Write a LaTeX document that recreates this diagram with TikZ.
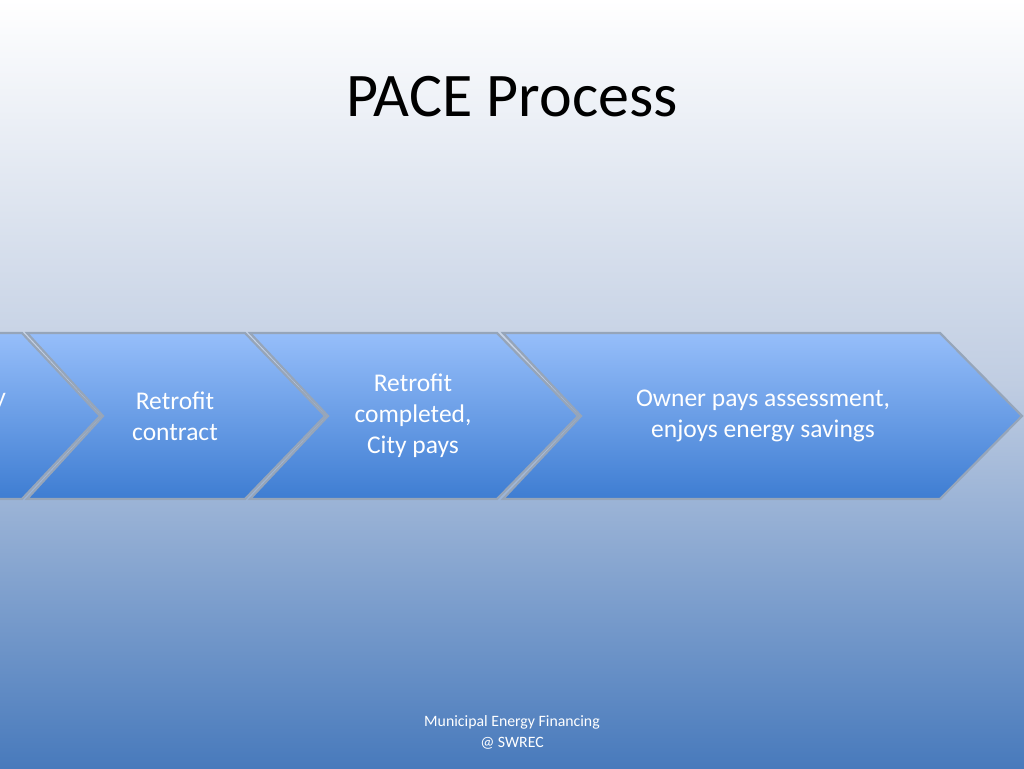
\documentclass[tikz,border=0pt]{standalone}
\usepackage{fontspec}
\setmainfont{Carlito}
\definecolor{bgtop}{RGB}{255,255,255}
\definecolor{bgmid}{RGB}{192,205,226}
\definecolor{bgbot}{RGB}{72,122,188}
\definecolor{chtop}{RGB}{150,190,250}
\definecolor{chbot}{RGB}{62,125,210}
\definecolor{chline}{RGB}{150,165,185}
\tikzset{
 chev/.style={top color=chtop,bottom color=chbot,draw=chline,line width=2.2pt,line join=miter},
 lbl/.style={text=white,font=\fontsize{25.5}{31}\selectfont,align=center},
}
\begin{document}
\begin{tikzpicture}[x=1pt,y=-1pt]
\useasboundingbox (0,0) rectangle (1024,768);
\shade[top color=bgtop,bottom color=bgbot,middle color=bgmid] (0,0) rectangle (1024,768);
\begin{scope}
\clip (0,0) rectangle (1024,768);
\filldraw[chev] (-200,333) -- (22,333) -- (100,416) -- (22,499) -- (-200,499) -- cycle;
\filldraw[chev] (27,333) -- (245,333) -- (325,416) -- (245,499) -- (27,499) -- (103,416) -- cycle;
\filldraw[chev] (250,333) -- (497,333) -- (578,416) -- (497,499) -- (250,499) -- (328,416) -- cycle;
\filldraw[chev] (503,333) -- (940,333) -- (1022,416) -- (940,499) -- (503,499) -- (581,416) -- cycle;
\node[lbl,anchor=east,inner sep=0pt] (c1) at (6,401) {y};
\end{scope}
\node[lbl] (c2) at (175,416) {Retrofit\\contract};
\node[lbl] (c3) at (413,416) {Retrofit\\completed,\\City pays};
\node[lbl] (c4) at (763,416) {Owner pays assessment,\\enjoys energy savings};
\node[font=\fontsize{62}{66}\selectfont] (title) at (512,97) {PACE Process};
\node[text=white,font=\fontsize{15.8}{21}\selectfont,align=center] (foot) at (512,732) {Municipal Energy Financing\\@ SWREC};
\end{tikzpicture}
\end{document}
